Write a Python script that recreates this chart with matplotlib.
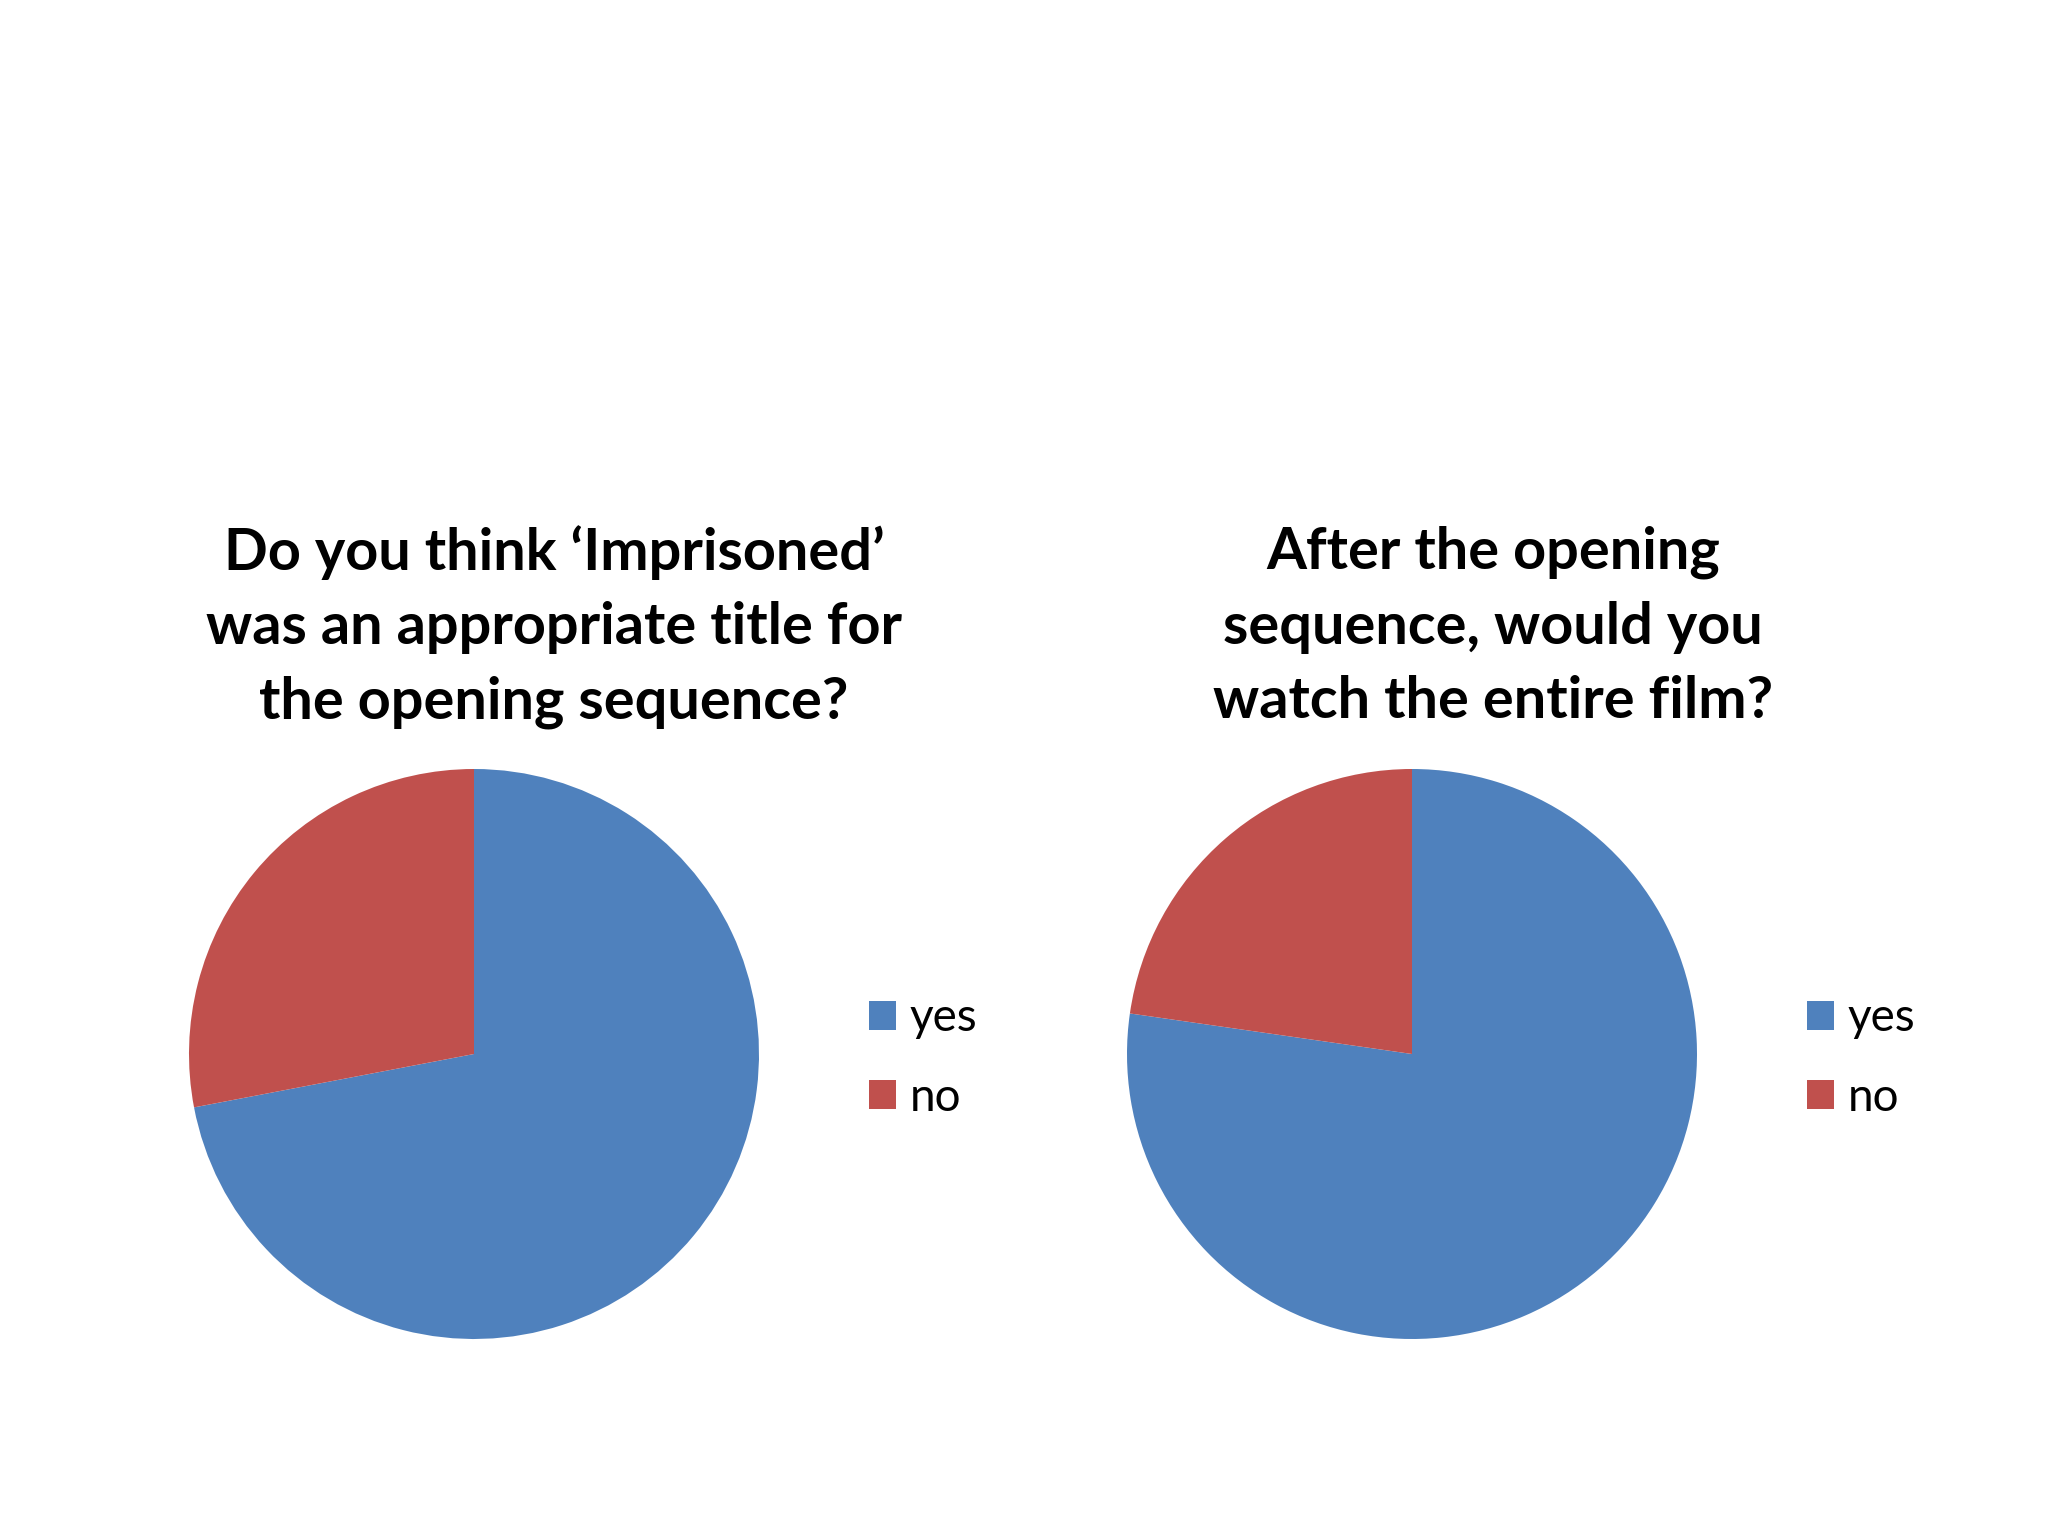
import matplotlib
matplotlib.use("Agg")
import matplotlib.pyplot as plt

plt.rcParams['font.family'] = ['Lato', 'DejaVu Sans']

labels = ['yes', 'no']
colors = ['#4F81BD', '#C0504D']

title_left = "Do you think \u2018Imprisoned\u2019\nwas an appropriate title for\nthe opening sequence?"
values_left = [18, 7]

title_right = "After the opening\nsequence, would you\nwatch the entire film?"
values_right = [17, 5]

W, H = 2048, 1536
fig = plt.figure(figsize=(W / 100, H / 100), dpi=100)
fig.patch.set_facecolor('white')


def draw_pie(cx, cy, r, values, title, title_x, legend_x):
    # cx, cy, r in pixels (y from top)
    ax = fig.add_axes([(cx - r) / W, (H - cy - r) / H, 2 * r / W, 2 * r / H])
    wedges, _ = ax.pie(values, colors=colors, startangle=90, counterclock=False,
                       radius=1, wedgeprops=dict(linewidth=0))
    ax.set_xlim(-1, 1)
    ax.set_ylim(-1, 1)
    ax.set_aspect('equal')
    ax.axis('off')
    fig.text(title_x / W, (H - 627) / H, title, ha='center', va='center',
             fontsize=41.5, fontweight='bold', linespacing=1.5, color='black')
    fig.legend(wedges, labels, loc='center left',
               bbox_to_anchor=(legend_x / W, (H - 1058) / H),
               frameon=False, fontsize=33, borderpad=0, borderaxespad=0,
               handlelength=0.59, handleheight=0.59, handletextpad=0.3,
               labelspacing=0.81)


draw_pie(474, 1054, 285, values_left, title_left, 554, 869)
draw_pie(1412, 1054, 285, values_right, title_right, 1493, 1807)

fig.savefig('out.png', dpi=100, facecolor='white')
